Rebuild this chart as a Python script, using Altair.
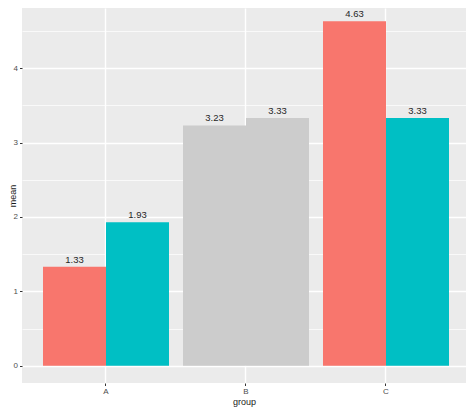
import altair as alt
import pandas as pd

groups = ["A", "A", "B", "B", "C", "C"]
subgroups = ["s1", "s2", "s1", "s2", "s1", "s2"]
means = [1.33, 1.93, 3.23, 3.33, 4.63, 3.33]
fills = ["#F8766D", "#00BFC4", "#CCCCCC", "#CCCCCC", "#F8766D", "#00BFC4"]
major_ticks = [0, 1, 2, 3, 4]
minor_ticks = [0.5, 1.5, 2.5, 3.5, 4.5]

df = pd.DataFrame({"group": groups, "sub": subgroups, "mean": means, "fill": fills})

FONT = "Liberation Sans"
yscale = alt.Scale(domain=[-0.2315, 4.8077], nice=False, zero=False)
xscale = alt.Scale(paddingInner=0.1, paddingOuter=0.1357, align=0.5526)
xoff = alt.XOffset("sub:N", scale=alt.Scale(paddingInner=0, paddingOuter=0))

x = alt.X("group:N", scale=xscale,
          axis=alt.Axis(title="group", labelAngle=0, grid=True, bandPosition=0.5,
                        gridColor="white", gridWidth=1.4, titlePadding=2, labelPadding=2))

bars = alt.Chart(df).mark_bar().encode(
    x=x,
    xOffset=xoff,
    y=alt.Y("mean:Q", scale=yscale,
            axis=alt.Axis(values=major_ticks, title="mean", grid=True, gridColor="white",
                          gridWidth=1.4, labelPadding=2, orient="left",
                          titleX=-5, titleBaseline="bottom")),
    color=alt.Color("fill:N", scale=None),
)

text = alt.Chart(df).mark_text(baseline="bottom", dy=-2, fontSize=9.5, font=FONT,
                               color="#262626").encode(
    x=x,
    xOffset=xoff,
    y=alt.Y("mean:Q", scale=yscale,
            axis=alt.Axis(values=minor_ticks, grid=True, gridColor="white", gridWidth=0.7,
                          labels=False, ticks=False, domain=False, title=None, orient="left")),
    text=alt.Text("mean:Q", format=".2f"),
)

chart = alt.layer(bars, text).resolve_scale(y="shared").resolve_axis(y="independent").properties(
    width=444, height=375, autosize="none",
    padding={"left": 14, "top": 0, "right": 0, "bottom": 24},
    background="white",
).configure_view(fill="#EBEBEB", stroke=None).configure_axis(
    labelFont=FONT, titleFont=FONT, labelColor="#4D4D4D", labelFontSize=8,
    titleFontSize=9, titleColor="#1a1a1a", titleFontWeight="normal",
    tickColor="#333333", tickSize=2.5, tickWidth=1, domain=False,
)

chart.save("out.html", embed_options={"renderer": "svg", "actions": False})
